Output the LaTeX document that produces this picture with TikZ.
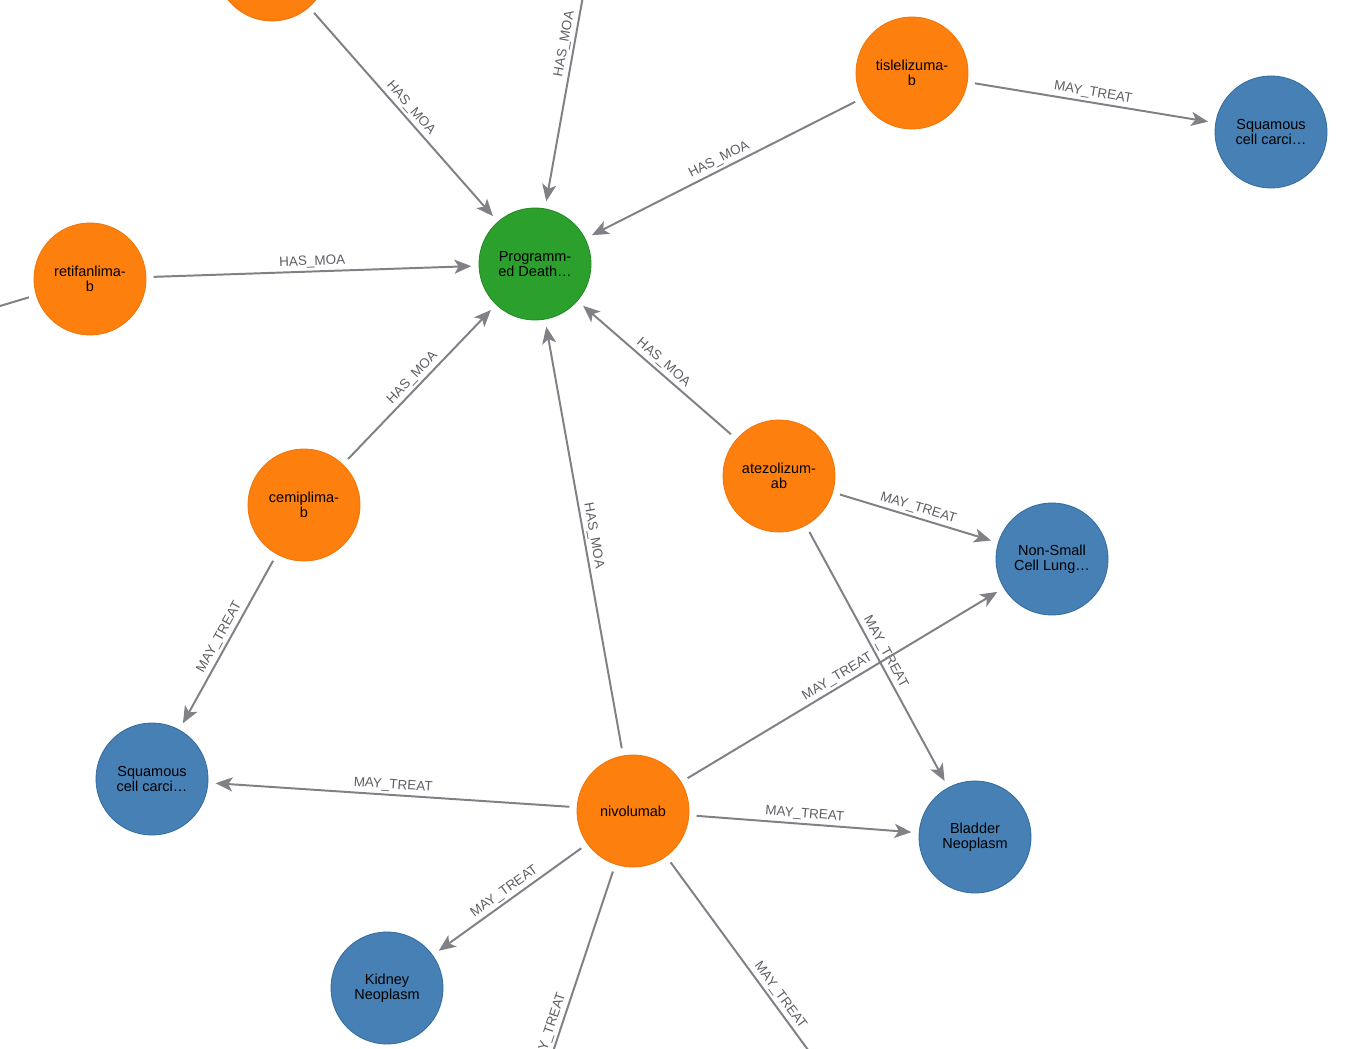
\documentclass[tikz,border=0pt]{standalone}
\usepackage{fontspec}
\setmainfont{Liberation Sans}
\usetikzlibrary{arrows.meta}
\definecolor{drugColor}{RGB}{253,127,14}
\definecolor{drugBorder}{RGB}{240,118,10}
\definecolor{targetColor}{RGB}{44,160,44}
\definecolor{targetBorder}{RGB}{34,138,34}
\definecolor{diseaseColor}{RGB}{70,128,180}
\definecolor{diseaseBorder}{RGB}{52,108,160}
\definecolor{edgeColor}{RGB}{128,128,134}
\definecolor{labelColor}{RGB}{95,95,100}

\begin{document}
\begin{tikzpicture}[x=0.025cm,y=-0.025cm]

            \tikzstyle{baseNode} = [circle, minimum size=2.8cm, inner sep=0pt, outer sep=5.5pt, line width=0.6pt, align=center, text=black, font=\fontsize{10.3}{10.7}\selectfont];
            \tikzstyle{drugNode} = [baseNode, fill=drugColor, draw=drugBorder];
            \tikzstyle{targetNode} = [baseNode, fill=targetColor, draw=targetBorder];
            \tikzstyle{diseaseNode} = [baseNode, fill=diseaseColor, draw=diseaseBorder];
            \tikzstyle{rel} = [edgeColor, line width=1.4pt, -{Stealth[length=12pt,width=10pt,inset=3pt]}];
            \tikzstyle{relLabel} = [sloped, above, midway, text=labelColor, inner sep=1.8pt, font=\fontsize{9.6}{9.6}\selectfont];

            \useasboundingbox (0,0) rectangle (1358,1049);
            \clip (0,0) rectangle (1358,1049);

            \node[targetNode] (pd) at (535,264) {Programm-\\ed Death\dots};
            \node[drugNode] (top) at (272,-35) {};
            \node[drugNode] (tis) at (912,73) {tislelizuma-\\b};
            \node[drugNode] (ret) at (90,279) {retifanlima-\\b};
            \node[drugNode] (cem) at (304,505) {cemiplima-\\b};
            \node[drugNode] (ate) at (779,476) {atezolizum-\\ab};
            \node[drugNode] (niv) at (633,811) {nivolumab};
            \node[diseaseNode] (sqr) at (1271,132) {Squamous\\cell carci\dots};
            \node[diseaseNode] (sql) at (152,779) {Squamous\\cell carci\dots};
            \node[diseaseNode] (nsc) at (1052,559) {Non-Small\\Cell Lung\dots};
            \node[diseaseNode] (bla) at (975,837) {Bladder\\Neoplasm};
            \node[diseaseNode] (kid) at (387,988) {Kidney\\Neoplasm};

            % loose ends leaving the view
            \coordinate (upEnd) at (602,-110);
            \coordinate (leftEnd) at (-150,351);
            \coordinate (downEndA) at (505,1196);
            \coordinate (downEndB) at (874,1140);

            \draw[rel] (top) -- (pd) node[relLabel] {HAS\_MOA};
            \draw[rel] (upEnd) -- (pd) node[relLabel] {HAS\_MOA};
            \draw[rel] (tis) -- (pd) node[relLabel] {HAS\_MOA};
            \draw[rel] (ret) -- (pd) node[relLabel] {HAS\_MOA};
            \draw[rel] (cem) -- (pd) node[relLabel] {HAS\_MOA};
            \draw[rel] (ate) -- (pd) node[relLabel] {HAS\_MOA};
            \draw[rel] (niv) -- (pd) node[relLabel] {HAS\_MOA};

            \draw[rel] (tis) -- (sqr) node[relLabel] {MAY\_TREAT};
            \draw[rel] (ret) -- (leftEnd);
            \draw[rel] (cem) -- (sql) node[relLabel] {MAY\_TREAT};
            \draw[rel] (ate) -- (nsc) node[relLabel] {MAY\_TREAT};
            \draw[rel] (ate) -- (bla) node[relLabel] {MAY\_TREAT};
            \draw[rel] (niv) -- (nsc) node[relLabel] {MAY\_TREAT};
            \draw[rel] (niv) -- (sql) node[relLabel] {MAY\_TREAT};
            \draw[rel] (niv) -- (bla) node[relLabel] {MAY\_TREAT};
            \draw[rel] (niv) -- (kid) node[relLabel] {MAY\_TREAT};
            \draw[rel] (niv) -- (downEndA) node[relLabel] {MAY\_TREAT};
            \draw[rel] (niv) -- (downEndB) node[relLabel] {MAY\_TREAT};
          \end{tikzpicture}
\end{document}
